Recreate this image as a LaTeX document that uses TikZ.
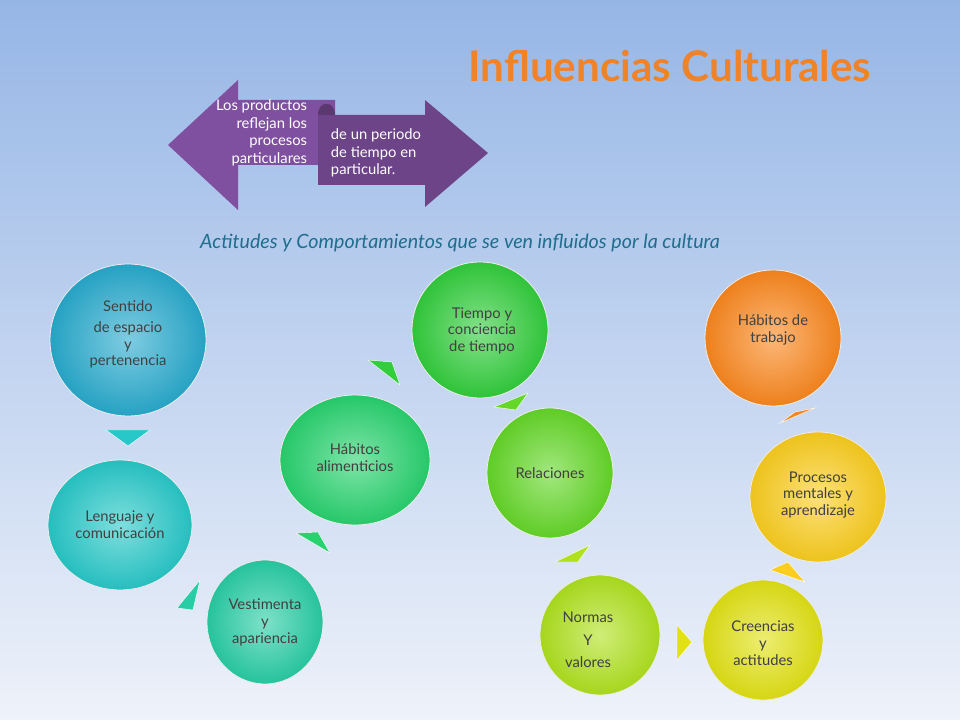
\documentclass[tikz,border=0pt]{standalone}
\usepackage{fontspec}
\setmainfont{Lato}
\begin{document}
\begin{tikzpicture}[x=0.025cm,y=-0.025cm,
  bub/.style={inner sep=0pt,align=center,font=\fontsize{10.5}{12}\selectfont,text=black!75},
  tri/.style={fill=#1,draw=white,line width=0.3pt},
  ring/.style={draw=white!85!gray,line width=0.6pt}]
\shade[top color={rgb,255:red,150;green,182;blue,230},bottom color={rgb,255:red,238;green,242;blue,250}] (0,0) rectangle (960,720);
\useasboundingbox (0,0) rectangle (960,720);
\definecolor{purp}{RGB}{128,80,160}
% arrows
\fill[purp] (168,145) -- (238,80) -- (238,100) -- (335,100) -- (335,165) -- (238,165) -- (238,210) -- cycle;
\fill[purp!85!black] (318,115) -- (425,115) -- (425,100) -- (488,153) -- (425,207) -- (425,185) -- (318,185) -- cycle;
\fill[purp!70!black] (318,115) .. controls (318,100) and (335,100) .. (335,115) -- cycle;
\node[align=right,anchor=east,text=white,font=\fontsize{10.5}{12.5}\selectfont] (lt) at (312,133) {Los productos\\reflejan los\\procesos\\particulares};
\node[align=left,anchor=west,text=white,font=\fontsize{10.5}{12.5}\selectfont] (rt) at (326,153) {de un periodo\\de tiempo en\\particular.};
\node[text={rgb,255:red,240;green,130;blue,40},font=\bfseries\fontsize{30}{32}\selectfont] (title) at (670,66) {Influencias Culturales};
\node[text={rgb,255:red,30;green,110;blue,140},font=\itshape\fontsize{14}{16}\selectfont] (sub) at (460,243) {Actitudes y Comportamientos que se ven influidos por la cultura};
\definecolor{c1}{RGB}{40,170,205}\definecolor{c2}{RGB}{40,200,200}\definecolor{c3}{RGB}{40,205,165}
\definecolor{c4}{RGB}{40,210,110}\definecolor{c5}{RGB}{50,205,60}\definecolor{c6}{RGB}{100,215,40}
\definecolor{c7}{RGB}{175,225,30}\definecolor{c8}{RGB}{225,225,20}\definecolor{c9}{RGB}{250,205,30}\definecolor{c10}{RGB}{250,135,30}
\shade[inner color=c1!60!white,outer color=c1!95!black] (128,340) ellipse [x radius=78,y radius=76];
\draw[ring] (128,340) ellipse [x radius=78,y radius=76];
\node[bub,anchor=north] (n1) at (128,300) {Sentido\\[3pt]de espacio\\y\\pertenencia};
\shade[inner color=c2!60!white,outer color=c2!95!black] (120,525) ellipse [x radius=72,y radius=65];
\draw[ring] (120,525) ellipse [x radius=72,y radius=65];
\node[bub] (n2) at (120,525) {Lenguaje y\\comunicación};
\shade[inner color=c3!60!white,outer color=c3!95!black] (265,622) ellipse [x radius=58,y radius=62];
\draw[ring] (265,622) ellipse [x radius=58,y radius=62];
\node[bub] (n3) at (265,622) {Vestimenta\\y\\apariencia};
\shade[inner color=c4!60!white,outer color=c4!95!black] (355,460) ellipse [x radius=75,y radius=65];
\draw[ring] (355,460) ellipse [x radius=75,y radius=65];
\node[bub] (n4) at (355,458) {Hábitos\\alimenticios};
\shade[inner color=c5!60!white,outer color=c5!95!black] (480,330) ellipse [x radius=68,y radius=68];
\draw[ring] (480,330) ellipse [x radius=68,y radius=68];
\node[bub,anchor=north] (n5) at (482,307) {Tiempo y\\conciencia\\de tiempo};
\shade[inner color=c6!60!white,outer color=c6!95!black] (550,473) ellipse [x radius=63,y radius=65];
\draw[ring] (550,473) ellipse [x radius=63,y radius=65];
\node[bub] (n6) at (550,473) {Relaciones};
\shade[inner color=c7!60!white,outer color=c7!95!black] (600,635) ellipse [x radius=60,y radius=60];
\draw[ring] (600,635) ellipse [x radius=60,y radius=60];
\node[bub] (n7) at (588,640) {Normas\\[4pt]Y\\[4pt]valores};
\shade[inner color=c8!60!white,outer color=c8!95!black] (763,640) ellipse [x radius=60,y radius=60];
\draw[ring] (763,640) ellipse [x radius=60,y radius=60];
\node[bub] (n8) at (763,643) {Creencias\\y\\actitudes};
\shade[inner color=c9!60!white,outer color=c9!95!black] (818,497) ellipse [x radius=68,y radius=65];
\draw[ring] (818,497) ellipse [x radius=68,y radius=65];
\node[bub] (n9) at (818,495) {Procesos\\mentales y\\aprendizaje};
\shade[inner color=c10!60!white,outer color=c10!95!black] (773,338) ellipse [x radius=68,y radius=68];
\draw[ring] (773,338) ellipse [x radius=68,y radius=68];
\node[bub] (n10) at (773,330) {Hábitos de\\trabajo};
% triangles
\fill[tri=c2] (106,430) -- (150,430) -- (128,446) -- cycle;
\fill[tri=c3] (200,580) -- (193,610) -- (177,608) -- cycle;
\fill[tri=c4] (296,533) -- (330,553) -- (318,532) -- cycle;
\fill[tri=c5] (368,360) -- (400,385) -- (392,362) -- cycle;
\fill[tri=c6] (494,407) -- (528,393) -- (516,410) -- cycle;
\fill[tri=c7] (555,562) -- (590,545) -- (578,562) -- cycle;
\fill[tri=c8] (677,625) -- (692,642) -- (677,660) -- cycle;
\fill[tri=c9] (770,570) -- (805,582) -- (788,562) -- cycle;
\fill[tri=c10] (780,423) -- (815,408) -- (795,412) -- cycle;
\end{tikzpicture}
\end{document}
